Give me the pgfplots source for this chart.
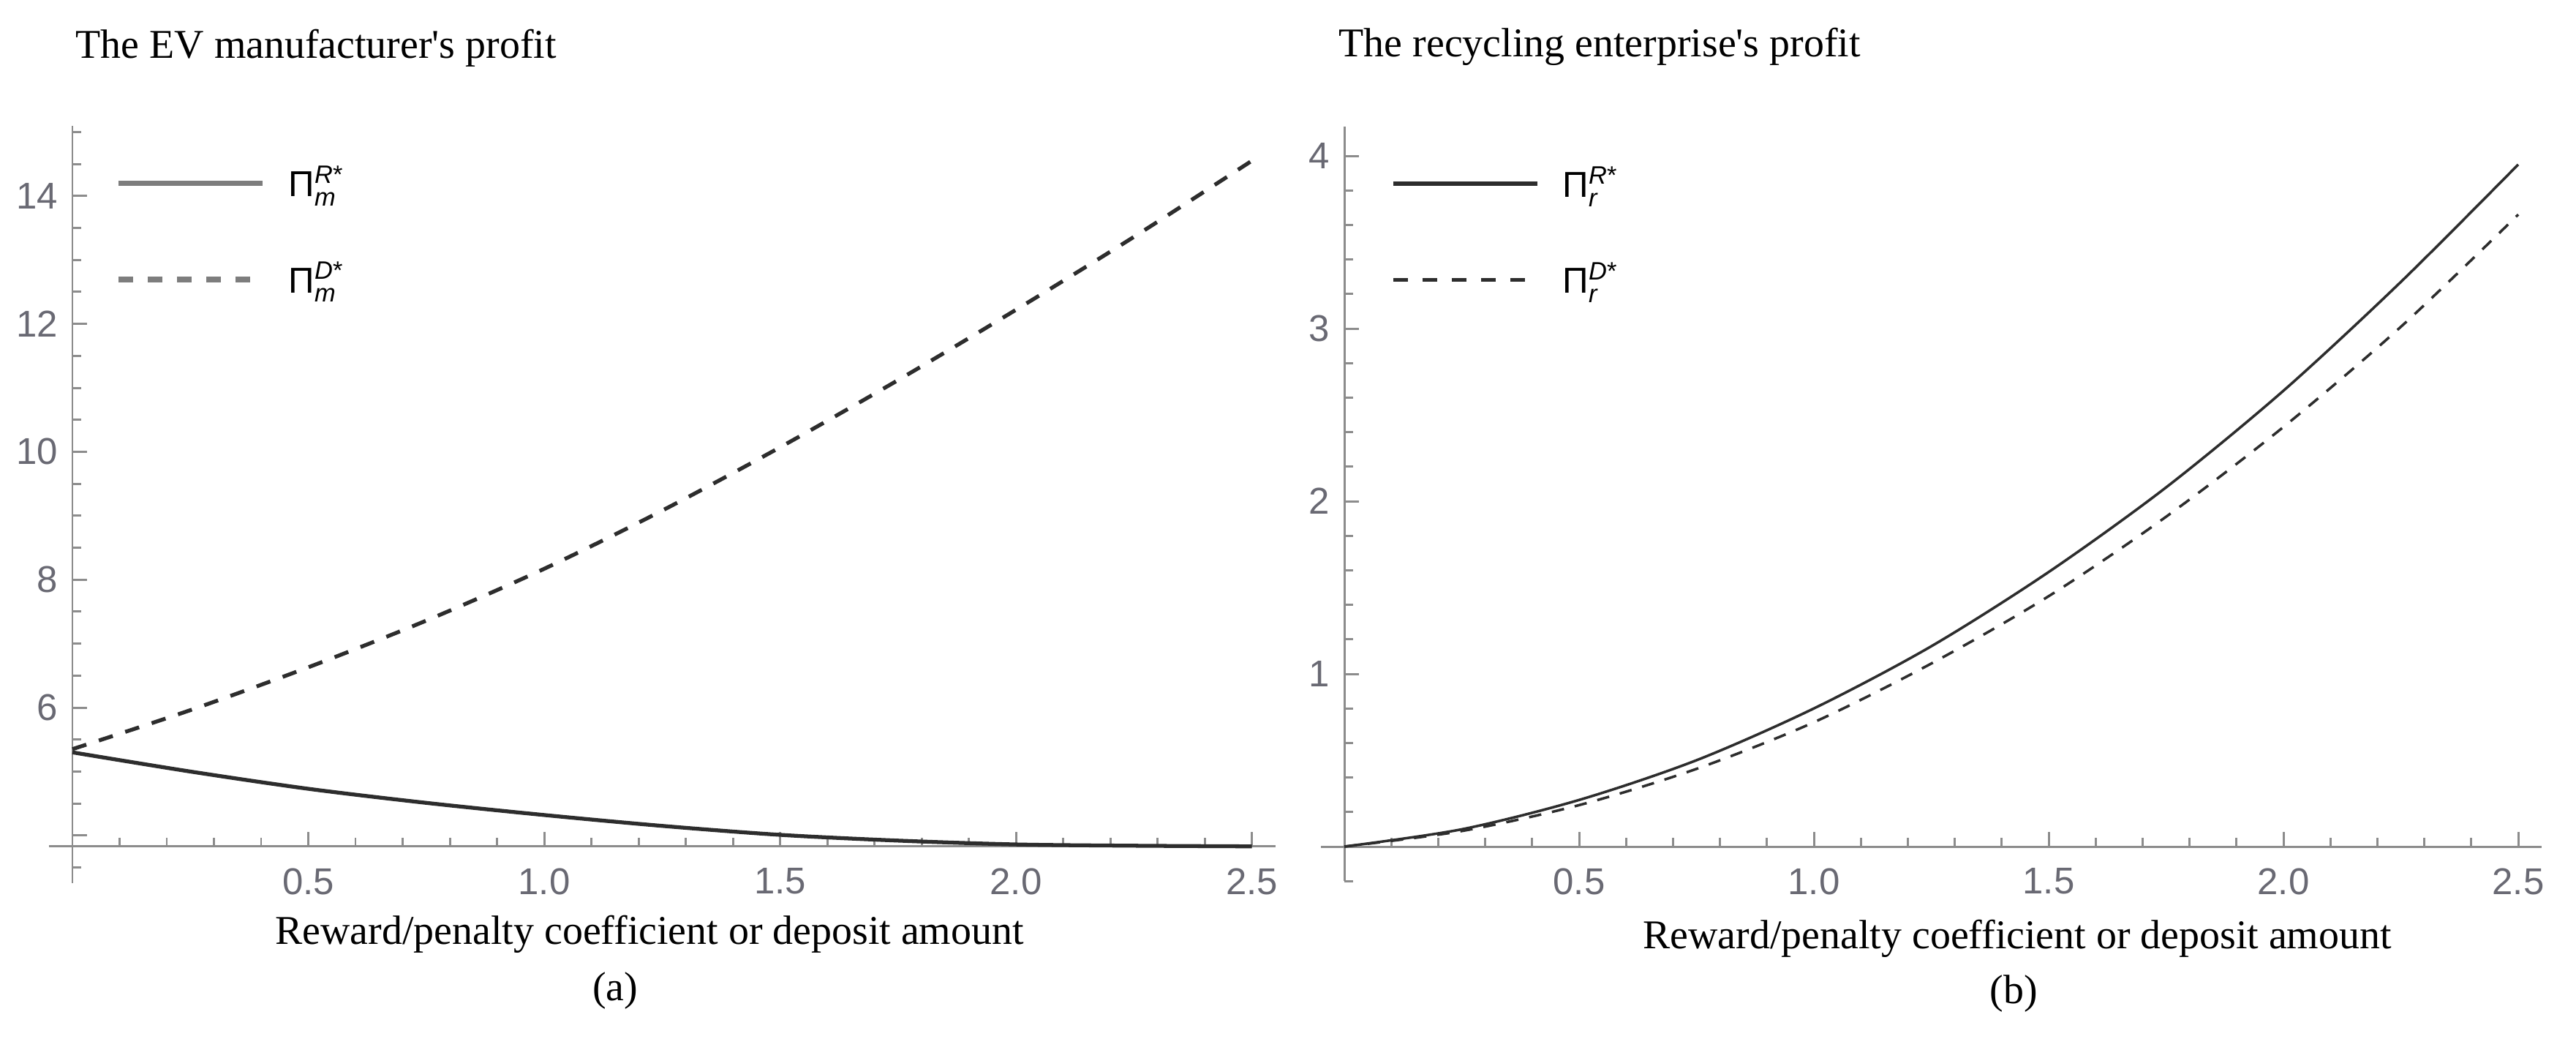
\documentclass[border=0pt]{standalone}
\usepackage{amsmath}
\usepackage{fontspec}
\setmainfont{Liberation Serif}[Ligatures=TeXOff]
\newfontfamily\lsans{Liberation Sans}
\usepackage{pgfplots}
\pgfplotsset{compat=1.18}
\definecolor{axgray}{RGB}{140,140,140}
\definecolor{tickgray}{RGB}{105,105,115}
\definecolor{leggray}{RGB}{125,125,125}
\definecolor{curve}{RGB}{45,45,45}
\newcommand\ttl{\fontsize{15.9}{19}\selectfont}
\newcommand\tickf{\fontsize{14.5}{17}\selectfont\lsans}
\newcommand\legf{\fontsize{14}{17}\selectfont\lsans}

\pgfplotsset{
 mystyle/.style={
  scale only axis, clip=false,
  xmin=-0.05, xmax=2.55,
  axis line style={-, draw=axgray, line width=0.85pt},
  tick style={draw=axgray, line width=0.85pt},
  major tick length=0.2cm, minor tick length=0.12cm,
  tick align=inside,
  xtick={0.5,1,1.5,2,2.5},
  minor xtick={0.1,0.2,...,2.5},
  xticklabel style={inner sep=0pt, anchor=north, yshift=-0.29cm, /pgf/number format/.cd, fixed, fixed zerofill, precision=1},
  yticklabel style={inner sep=0pt, anchor=east, xshift=-0.19cm},
  tick label style={font=\tickf, text=tickgray},
  /pgf/number format/assume math mode=true,
  legend cell align=left,
  legend style={draw=none, fill=none, inner sep=0pt, outer sep=0pt, anchor=north west, column sep=0.32cm, row sep=0.84cm, font=\legf, nodes={inner sep=0pt}},
  legend image code/.code={\draw[##1] (0cm,0cm) -- (1.97cm,0cm);},
 }
}

\begin{document}
\begin{tikzpicture}
\useasboundingbox (0,0) rectangle (35.22,14.19);

% ---------------- (a) ----------------
\begin{axis}[mystyle,
  at={(0.6675cm,2.623cm)}, anchor=south west,
  width=16.77cm, height=9.850cm,
  ymin=3.83, ymax=15.1,
  axis x line*=bottom, axis y line*=middle,
  ytick={4,6,8,10,12,14}, yticklabels={,6,8,10,12,14},
  minor ytick={4.5,5,...,15},
  legend style={at={(axis description cs:0.0544,0.944)}},
]
\addlegendimage{leggray, line width=2.2pt}
\addlegendentry{Π$_{\textit{m}}^{\textit{R}\text{*}}$}
\addlegendimage{leggray, line width=2.2pt, dash pattern=on 0.2cm off 0.2cm}
\addlegendentry{Π$_{\textit{m}}^{\textit{D}\text{*}}$}

\addplot[curve, line width=1.5pt, smooth, forget plot] coordinates {
 (0,5.30) (0.25,5.00) (0.5,4.73) (0.75,4.51) (1.0,4.32) (1.25,4.15)
 (1.5,4.01) (1.75,3.92) (2.0,3.86) (2.25,3.84) (2.5,3.83)};
\addplot[curve, line width=1.5pt, smooth, dash pattern=on 0.2cm off 0.18cm, forget plot] coordinates {
 (0,5.35) (0.25,5.96) (0.5,6.63) (0.75,7.36) (1.0,8.17) (1.25,9.08)
 (1.5,10.07) (1.75,11.12) (2.0,12.22) (2.25,13.36) (2.5,14.55)};

\draw[axgray, line width=0.85pt] (axis cs:0,3.83) -- (axis cs:0,3.25);
\draw[axgray, line width=0.85pt] (axis cs:0,3.5) -- ++(0.12cm,0pt);
\end{axis}

% ---------------- (b) ----------------
\begin{axis}[mystyle,
  at={(18.059cm,2.148cm)}, anchor=south west,
  width=16.692cm, height=10.313cm,
  ymin=-0.2, ymax=4.17,
  axis lines*=middle,
  ytick={1,2,3,4},
  minor ytick={-0.2,0,...,4},
  legend style={at={(axis description cs:0.0576,0.947)}},
]
\addlegendimage{curve, line width=1.6pt}
\addlegendentry{Π$_{\textit{r}}^{\textit{R}\text{*}}$}
\addlegendimage{curve, line width=1.6pt, dash pattern=on 0.2cm off 0.2cm}
\addlegendentry{Π$_{\textit{r}}^{\textit{D}\text{*}}$}

\addplot[curve, line width=1.0pt, smooth, forget plot] coordinates {
 (0,0) (0.25,0.10) (0.5,0.27) (0.75,0.50) (1.0,0.80) (1.25,1.16)
 (1.5,1.59) (1.75,2.08) (2.0,2.64) (2.25,3.27) (2.5,3.95)};
\addplot[curve, line width=1.0pt, smooth, dash pattern=on 0.17cm off 0.15cm, forget plot] coordinates {
 (0,0) (0.25,0.09) (0.5,0.24) (0.75,0.45) (1.0,0.72) (1.25,1.06)
 (1.5,1.45) (1.75,1.91) (2.0,2.43) (2.25,3.01) (2.5,3.66)};
\end{axis}

% ---------------- texts ----------------
\node[anchor=west, inner sep=0pt, font=\ttl] at (1.03,13.53) {The EV manufacturer's profit};
\node[anchor=west, inner sep=0pt, font=\ttl] at (18.30,13.55) {The recycling enterprise's profit};
\node[inner sep=0pt, font=\ttl] at (8.88,1.42) {Reward/penalty coefficient or deposit amount};
\node[inner sep=0pt, font=\ttl] at (8.41,0.65) {(a)};
\node[inner sep=0pt, font=\ttl] at (27.58,1.36) {Reward/penalty coefficient or deposit amount};
\node[inner sep=0pt, font=\ttl] at (27.53,0.61) {(b)};
\end{tikzpicture}
\end{document}
